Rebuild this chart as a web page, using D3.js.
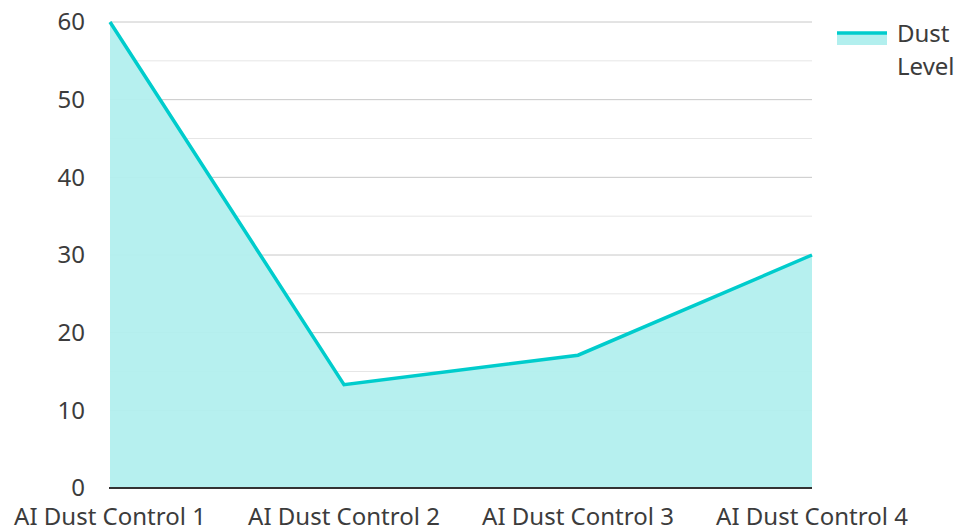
<!DOCTYPE html>
<html>
<head>
<meta charset="utf-8">
<script src="https://cdn.jsdelivr.net/npm/d3@7"></script>
<style>
body { margin: 0; background: #fff; }
text { font-family: "Noto Sans", "Open Sans", sans-serif; fill: #3c3c3c; }
</style>
</head>
<body>
<svg id="viz"></svg>
<script>
// data
var categories = ['AI Dust Control 1', 'AI Dust Control 2', 'AI Dust Control 3', 'AI Dust Control 4']
var dustLevel = [60, 13.3, 17.1, 30]
var yTicks = [0, 10, 20, 30, 40, 50, 60]
var seriesName = ['Dust', 'Level']

var width = 956
var height = 528
var lineColor = '#00cccc'
var fillColor = '#b2efee'

var svg = d3.select('#viz')
	.attr('width', width)
	.attr('height', height)

var x = d3.scalePoint().domain(categories).range([110, 812])
var y = d3.scaleLinear().domain([0, 60]).range([488, 22])

// minor grid every 5
svg.append('g')
	.selectAll('line')
	.data(d3.range(5, 60, 10))
	.enter()
	.append('line')
	.attr('x1', 110).attr('x2', 812)
	.attr('y1', d => y(d)).attr('y2', d => y(d))
	.attr('stroke', '#e6e6e6')
	.attr('stroke-width', 1)

// major grid
svg.append('g')
	.selectAll('line')
	.data(yTicks.slice(1))
	.enter()
	.append('line')
	.attr('x1', 110).attr('x2', 812)
	.attr('y1', d => y(d)).attr('y2', d => y(d))
	.attr('stroke', '#c8c8c8')
	.attr('stroke-width', 1)

var pts = categories.map((c, i) => [c, dustLevel[i]])

var area = d3.area()
	.x(d => x(d[0]))
	.y0(y(0))
	.y1(d => y(d[1]))

svg.append('path')
	.datum(pts)
	.attr('d', area)
	.attr('fill', fillColor)
	.attr('fill-opacity', 0.95)

var line = d3.line()
	.x(d => x(d[0]))
	.y(d => y(d[1]))

svg.append('path')
	.datum(pts)
	.attr('d', line)
	.attr('fill', 'none')
	.attr('stroke', lineColor)
	.attr('stroke-width', 3.5)

// baseline
svg.append('line')
	.attr('x1', 109).attr('x2', 812)
	.attr('y1', y(0)).attr('y2', y(0))
	.attr('stroke', '#333')
	.attr('stroke-width', 2)

// y labels
svg.append('g')
	.selectAll('text')
	.data(yTicks)
	.enter()
	.append('text')
	.attr('x', 85)
	.attr('y', d => y(d))
	.attr('dy', '0.35em')
	.attr('text-anchor', 'end')
	.style('font-size', '24px')
	.text(d => d)

// x labels
svg.append('g')
	.selectAll('text')
	.data(categories)
	.enter()
	.append('text')
	.attr('x', d => x(d))
	.attr('y', 525)
	.attr('text-anchor', 'middle')
	.style('font-size', '24px')
	.text(d => d)

// legend
var legend = svg.append('g')
legend.append('rect')
	.attr('x', 837).attr('y', 33)
	.attr('width', 50).attr('height', 12)
	.attr('fill', fillColor)
legend.append('line')
	.attr('x1', 837).attr('x2', 887)
	.attr('y1', 33).attr('y2', 33)
	.attr('stroke', lineColor)
	.attr('stroke-width', 3.5)
legend.selectAll('text')
	.data(seriesName)
	.enter()
	.append('text')
	.attr('x', 897)
	.attr('y', (d, i) => 42 + i * 33)
	.style('font-size', '24px')
	.text(d => d)
</script>
</body>
</html>
